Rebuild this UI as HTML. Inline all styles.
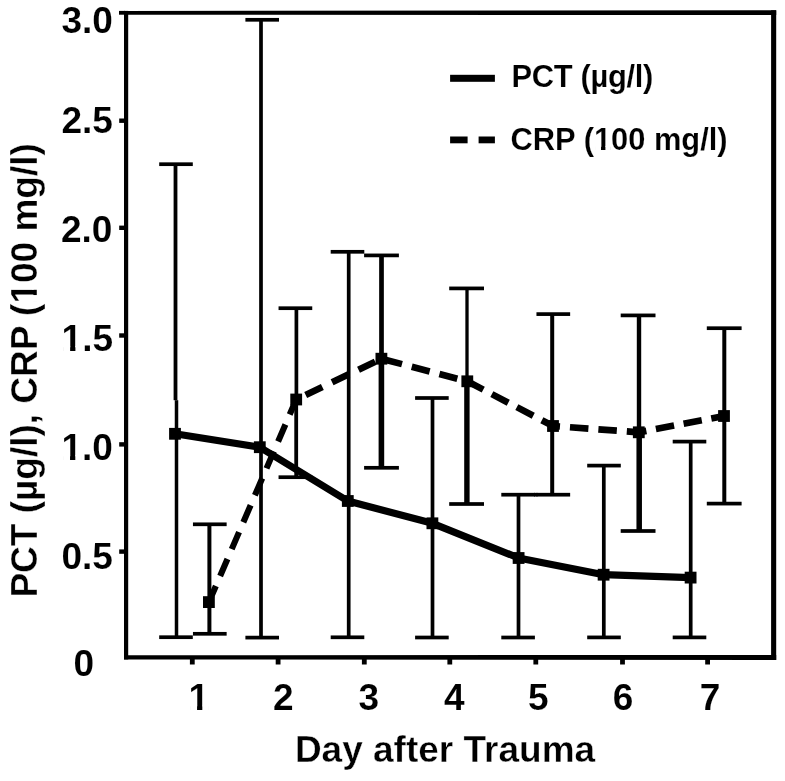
<!DOCTYPE html>
<html lang="en"><head><meta charset="utf-8"><title>PCT and CRP after Trauma</title>
<style>
html,body{margin:0;padding:0;background:#fff;}
body{width:785px;height:781px;overflow:hidden;}
svg{display:block;}
text{font-family:"Liberation Sans",Arial,Helvetica,sans-serif;font-weight:bold;fill:#000;}
.ax{font-size:37px;stroke:#fff;stroke-width:0.35px;}
.tk text{stroke-width:0.1px;}
.lg{font-size:30.85px;stroke:#fff;stroke-width:0.15px;}
</style></head><body>
<svg width="785" height="781" viewBox="0 0 785 781">
<rect x="0" y="0" width="785" height="781" fill="#fff"/>
<g fill="#000" stroke="none">
<rect x="173.60" y="164.20" width="3.80" height="236.00"/>
<rect x="174.75" y="400.20" width="3.50" height="237.00"/>
<rect x="159.20" y="162.35" width="33.60" height="3.70"/>
<rect x="159.20" y="635.35" width="33.60" height="3.70"/>
<rect x="259.15" y="19.80" width="3.70" height="617.80"/>
<rect x="245.40" y="17.95" width="33.60" height="3.70"/>
<rect x="245.40" y="635.75" width="33.60" height="3.70"/>
<rect x="346.85" y="251.80" width="3.70" height="385.50"/>
<rect x="330.70" y="249.95" width="33.60" height="3.70"/>
<rect x="330.70" y="635.45" width="33.60" height="3.70"/>
<rect x="430.65" y="398.00" width="3.70" height="239.50"/>
<rect x="415.10" y="396.15" width="33.60" height="3.70"/>
<rect x="415.10" y="635.65" width="33.60" height="3.70"/>
<rect x="516.65" y="494.70" width="3.70" height="142.80"/>
<rect x="501.30" y="492.85" width="33.60" height="3.70"/>
<rect x="501.30" y="635.65" width="33.60" height="3.70"/>
<rect x="601.95" y="465.60" width="3.70" height="171.80"/>
<rect x="587.20" y="463.75" width="33.60" height="3.70"/>
<rect x="587.20" y="635.55" width="33.60" height="3.70"/>
<rect x="688.85" y="441.60" width="3.70" height="195.80"/>
<rect x="672.70" y="439.75" width="33.60" height="3.70"/>
<rect x="672.70" y="635.55" width="33.60" height="3.70"/>
<rect x="207.40" y="524.30" width="4.00" height="77.80"/>
<rect x="207.40" y="602.10" width="4.00" height="31.70"/>
<rect x="192.95" y="522.45" width="33.70" height="3.70"/>
<rect x="192.95" y="631.95" width="33.70" height="3.70"/>
<rect x="294.55" y="308.20" width="3.70" height="91.30"/>
<rect x="294.30" y="399.50" width="3.80" height="77.70"/>
<rect x="278.55" y="306.35" width="33.70" height="3.70"/>
<rect x="278.55" y="475.35" width="33.70" height="3.70"/>
<rect x="379.15" y="255.40" width="4.70" height="103.30"/>
<rect x="378.60" y="358.70" width="5.60" height="109.10"/>
<rect x="364.10" y="253.55" width="34.80" height="3.70"/>
<rect x="364.10" y="465.95" width="34.80" height="3.70"/>
<rect x="465.35" y="288.40" width="3.30" height="92.90"/>
<rect x="464.20" y="381.30" width="5.40" height="122.70"/>
<rect x="449.20" y="286.55" width="34.80" height="3.70"/>
<rect x="449.20" y="502.15" width="34.80" height="3.70"/>
<rect x="550.20" y="314.10" width="4.00" height="111.90"/>
<rect x="550.20" y="426.00" width="4.00" height="68.70"/>
<rect x="536.45" y="312.25" width="33.70" height="3.70"/>
<rect x="536.45" y="492.85" width="33.70" height="3.70"/>
<rect x="636.80" y="315.40" width="4.40" height="116.90"/>
<rect x="636.45" y="432.30" width="5.50" height="98.70"/>
<rect x="620.70" y="313.55" width="34.80" height="3.70"/>
<rect x="620.70" y="529.15" width="34.80" height="3.70"/>
<rect x="722.30" y="328.20" width="4.00" height="87.80"/>
<rect x="722.30" y="416.00" width="4.00" height="87.60"/>
<rect x="706.80" y="326.35" width="34.80" height="3.70"/>
<rect x="706.80" y="501.75" width="34.80" height="3.70"/>
<rect x="534" y="492.85" width="3.5" height="3.70"/>
</g>
<polyline points="175.0,433.8 259.8,447.2 347.8,501.0 432.4,523.3 518.6,558.0 603.6,574.7 690.6,577.6" fill="none" stroke="#000" stroke-width="7.2" stroke-linejoin="round"/>
<line x1="208.9" y1="602.1" x2="296.2" y2="399.5" stroke="#000" stroke-width="6.1" stroke-dasharray="18.5 10.8" stroke-dashoffset="0.9"/>
<line x1="296.2" y1="399.5" x2="381.4" y2="358.7" stroke="#000" stroke-width="6.7" stroke-dasharray="18.5 10.8" stroke-dashoffset="-10.5"/>
<line x1="381.4" y1="358.7" x2="467.3" y2="381.3" stroke="#000" stroke-width="6.7" stroke-dasharray="18.5 10.1" stroke-dashoffset="-2.8"/>
<line x1="467.3" y1="381.3" x2="553.0" y2="426.0" stroke="#000" stroke-width="6.7" stroke-dasharray="18.5 9.7" stroke-dashoffset="0.5"/>
<line x1="553.0" y1="426.0" x2="638.8" y2="432.3" stroke="#000" stroke-width="6.7" stroke-dasharray="18.5 10" stroke-dashoffset="11.5"/>
<line x1="638.8" y1="432.3" x2="724.0" y2="416.0" stroke="#000" stroke-width="6.7" stroke-dasharray="18.5 9.7" stroke-dashoffset="10.8"/>
<g fill="#000">
<rect x="169.10" y="427.90" width="11.8" height="11.8"/>
<rect x="253.90" y="441.30" width="11.8" height="11.8"/>
<rect x="341.90" y="495.10" width="11.8" height="11.8"/>
<rect x="426.50" y="517.40" width="11.8" height="11.8"/>
<rect x="512.70" y="552.10" width="11.8" height="11.8"/>
<rect x="597.70" y="568.80" width="11.8" height="11.8"/>
<rect x="684.70" y="571.70" width="11.8" height="11.8"/>
<rect x="203.00" y="596.20" width="11.8" height="11.8"/>
<rect x="290.30" y="393.60" width="11.8" height="11.8"/>
<rect x="375.50" y="352.80" width="11.8" height="11.8"/>
<rect x="461.40" y="375.40" width="11.8" height="11.8"/>
<rect x="547.10" y="420.10" width="11.8" height="11.8"/>
<rect x="632.90" y="426.40" width="11.8" height="11.8"/>
<rect x="718.10" y="410.10" width="11.8" height="11.8"/>
</g>
<g fill="#000">
<rect x="124" y="10.9" width="4.2" height="648.5"/>
<polygon points="124,10.9 776.2,10.3 776.2,15 124,14.7"/>
<rect x="771.1" y="10.3" width="5.1" height="649.6"/>
<polygon points="124,655.2 776.2,655 776.2,659.9 124,659.4"/>
</g>
<g fill="#000">
<rect x="119" y="10.90" width="6" height="3.8"/>
<rect x="119.2" y="118.50" width="5.8" height="4.4"/>
<rect x="119.2" y="225.60" width="5.8" height="4.4"/>
<rect x="119.2" y="333.30" width="5.8" height="4.4"/>
<rect x="119.2" y="442.20" width="5.8" height="4.4"/>
<rect x="119.2" y="549.40" width="5.8" height="4.4"/>
<rect x="189.90" y="657" width="4.8" height="7.5"/>
<rect x="275.70" y="657" width="4.8" height="7.5"/>
<rect x="361.90" y="657" width="4.8" height="7.5"/>
<rect x="447.40" y="657" width="4.8" height="7.5"/>
<rect x="533.40" y="657" width="4.8" height="7.5"/>
<rect x="620.10" y="657" width="4.8" height="7.5"/>
<rect x="705.20" y="657" width="4.8" height="7.5"/>
</g>
<g class="ax">
<g class="tk">
<text id="yl3_0" x="61.40" y="33.40">3.0</text>
<text id="yl2_5" x="61.50" y="132.60">2.5</text>
<text id="yl2_0" x="61.00" y="242.00">2.0</text>
<text id="yl1_5" x="61.60" y="350.60">1.5</text>
<text id="yl1_0" x="61.50" y="459.90">1.0</text>
<text id="yl0_5" x="61.50" y="568.90">0.5</text>
<text id="yl0" x="73.50" y="675.60">0</text>
<text id="xl1" x="198.80" y="710.40" text-anchor="middle">1</text>
<text id="xl2" x="283.20" y="710.40" text-anchor="middle">2</text>
<text id="xl3" x="368.80" y="710.40" text-anchor="middle">3</text>
<text id="xl4" x="454.40" y="710.40" text-anchor="middle">4</text>
<text id="xl5" x="538.35" y="710.40" text-anchor="middle">5</text>
<text id="xl6" x="623.00" y="710.40" text-anchor="middle">6</text>
<text id="xl7" x="710.10" y="710.40" text-anchor="middle">7</text>
</g>
<text id="xt" x="294.9" y="762.0">Day after Trauma</text>
<text id="yt" transform="translate(37.1,597.6) rotate(-90)" x="0" y="0">PCT (µg/l), CRP (100 mg/l)</text>
</g>
<rect x="450.1" y="74.8" width="44.8" height="7.0" fill="#000"/>
<rect x="450.1" y="136.5" width="17.5" height="6.8" fill="#000"/>
<rect x="478.6" y="136.5" width="16.3" height="6.8" fill="#000"/>
<g class="lg">
<text id="lg1" x="511.4" y="87.1" style="letter-spacing:-0.3px">PCT (µg/l)</text>
<text id="lg2" x="510.5" y="150.0">CRP (100 mg/l)</text>
</g>
<g fill="#fff">
<rect x="190.18" y="705.73" width="6.88" height="5.16"/>
<rect x="202.31" y="705.73" width="6.36" height="5.16"/>
<rect x="63.26" y="345.93" width="6.88" height="5.16"/>
<rect x="75.40" y="345.93" width="6.36" height="5.16"/>
<rect x="63.16" y="455.23" width="6.88" height="5.16"/>
<rect x="75.30" y="455.23" width="6.36" height="5.16"/>
<rect x="595.28" y="145.95" width="5.74" height="4.45"/>
<rect x="605.40" y="145.95" width="5.31" height="4.45"/>
<g transform="translate(37.1,597.6) rotate(-90)">
<rect x="295.67" y="-4.67" width="6.88" height="5.16"/>
<rect x="307.80" y="-4.67" width="6.36" height="5.16"/>
</g></g>
</svg></body></html>
